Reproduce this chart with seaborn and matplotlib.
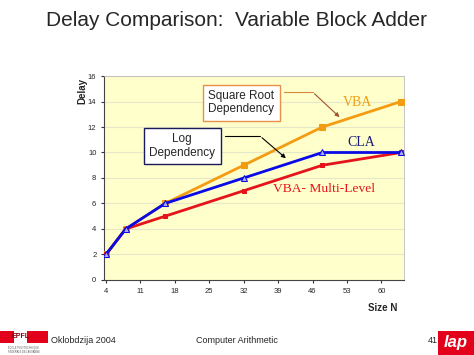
import numpy as np
import pandas as pd
import matplotlib
matplotlib.use("Agg")
import matplotlib.pyplot as plt
import seaborn as sns
from matplotlib.patches import Rectangle

# data
size_n = [4, 8, 16, 32, 48, 64]
delay_vba = [2, 4, 6, 9, 12, 14]
delay_cla = [2, 4, 6, 8, 10, 10]
delay_vba_ml = [2, 4, 5, 7, 9, 10]
x_ticks = [4, 11, 18, 25, 32, 39, 46, 53, 60]
y_ticks = [0, 2, 4, 6, 8, 10, 12, 14, 16]

sns.set_style("white")
plt.rcParams['font.family'] = ['Liberation Sans', 'DejaVu Sans']

c_vba = "#F39C12"
c_cla = "#0A0AE6"
c_ml = "#E5141B"

fig = plt.figure(figsize=(4.74, 3.55), dpi=100)
ax = fig.add_axes([0.2194, 0.2113, 0.633, 0.5746])
ax.set_facecolor("#FFFFCC")

df = pd.DataFrame({"Size N": size_n, "VBA": delay_vba, "CLA": delay_cla, "ML": delay_vba_ml})

sns.lineplot(data=df, x="Size N", y="VBA", ax=ax, color=c_vba, lw=2,
             marker="s", markersize=5, markeredgecolor=c_vba, zorder=3)
sns.lineplot(data=df, x="Size N", y="ML", ax=ax, color=c_ml, lw=2,
             marker="s", markersize=3.5, markeredgecolor=c_ml, zorder=4)
sns.lineplot(data=df, x="Size N", y="CLA", ax=ax, color=c_cla, lw=2,
             marker="^", markersize=4.5, markerfacecolor="#B0B0F0",
             markeredgecolor=c_cla, zorder=5)

ax.set_xlim(3.6, 64.6)
ax.set_ylim(0, 16)
ax.set_xticks(x_ticks)
ax.set_yticks(y_ticks)
ax.tick_params(axis="both", labelsize=5.5, length=2.5, direction="out",
               color="#333333", pad=3, bottom=True, left=True)
ax.yaxis.grid(True, color="#E6E6C8", lw=0.8)
ax.set_axisbelow(True)
for s in ["left", "bottom"]:
    ax.spines[s].set_color("#444444")
    ax.spines[s].set_linewidth(0.8)
for s in ["top", "right"]:
    ax.spines[s].set_color("#BBBBBB")
    ax.spines[s].set_linewidth(0.6)

ax.set_xlabel("")
ax.set_ylabel("")
fig.text(0.173, 0.745, "Delay", rotation=90, fontsize=7, fontweight="bold",
         ha="center", va="center")
fig.text(0.808, 0.133, "Size N", fontsize=7, fontweight="bold", ha="center", va="center")

# annotation boxes
ax.text(31.5, 13.9, "Square Root\nDependency", fontsize=8.5, ha="center", va="center",
        linespacing=1.15,
        bbox=dict(boxstyle="square,pad=0.45", fc="white", ec="#E8904A", lw=1))
ax.text(19.5, 10.5, "Log\nDependency", fontsize=8.5, ha="center", va="center",
        linespacing=1.15,
        bbox=dict(boxstyle="square,pad=0.45", fc="white", ec="#1A1A5A", lw=1))
ax.plot([40.2, 46.0], [14.75, 14.75], color="#D4883A", lw=0.8, zorder=6)
ax.annotate("", xy=(51.9, 12.63), xytext=(46.0, 14.75),
            arrowprops=dict(arrowstyle="-|>", color="#A0522D", lw=0.8,
                            mutation_scale=6), zorder=6)
ax.plot([28.2, 35.3], [11.3, 11.3], color="black", lw=0.8, zorder=6)
ax.annotate("", xy=(41.0, 9.41), xytext=(35.3, 11.3),
            arrowprops=dict(arrowstyle="-|>", color="black", lw=0.8,
                            mutation_scale=6), zorder=6)

serif = ['Liberation Serif', 'DejaVu Serif']
ax.text(55.1, 13.96, "VBA", color=c_vba, fontsize=10, family=serif, ha="center", va="center")
ax.text(55.9, 10.75, "CLA", color="#1A1A7A", fontsize=10, family=serif, ha="center", va="center")
ax.text(48.4, 7.14, "VBA- Multi-Level", color=c_ml, fontsize=9.7, family=serif,
        ha="center", va="center")

# title and footer
fig.text(0.5, 0.942, "Delay Comparison:  Variable Block Adder", fontsize=15,
         ha="center", va="center")
fig.text(0.175, 0.042, "Oklobdzija 2004", fontsize=6.5, ha="center", va="center")
fig.text(0.5, 0.042, "Computer Arithmetic", fontsize=6.5, ha="center", va="center")
fig.text(0.913, 0.042, "41", fontsize=6.5, ha="center", va="center")

# logos
fig.patches.append(Rectangle((0.0, 0.034), 0.03, 0.034, transform=fig.transFigure,
                             fc="#E2001A", ec="none"))
fig.patches.append(Rectangle((0.058, 0.034), 0.043, 0.034, transform=fig.transFigure,
                             fc="#E2001A", ec="none"))
fig.text(0.044, 0.051, "EPFL", fontsize=5, color="#8A0010", ha="center", va="center",
         fontweight="bold")
fig.text(0.05, 0.015, "ÉCOLE POLYTECHNIQUE\nFÉDÉRALE DE LAUSANNE", fontsize=1.8,
         color="#555555", ha="center", va="center")
fig.patches.append(Rectangle((0.924, 0.0), 0.076, 0.068, transform=fig.transFigure,
                             fc="#E2001A", ec="none"))
fig.text(0.962, 0.034, "lap", fontsize=12, color="white", fontweight="bold",
         style="italic", ha="center", va="center")

fig.savefig("out.png", dpi=100)
